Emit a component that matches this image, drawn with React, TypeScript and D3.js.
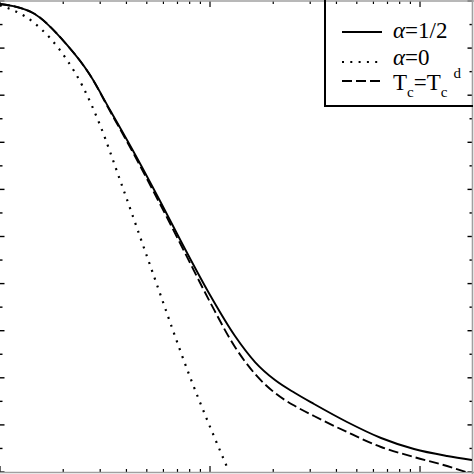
import React from "react";
import * as d3 from "d3";

const W = 474;
const H = 474;

// shared x values (log axis)
const curveX = [1, 1.436, 2.085, 2.683, 3.34, 4.492, 5.781, 7.603, 10, 13.15, 16.38, 20.39, 25.39, 31.28, 44.92, 65.22, 93.63, 134.5, 176.8];
// α = 1/2 (solid)
const solidY = [0.9936, 0.9745, 0.9066, 0.8429, 0.7686, 0.6667, 0.5754, 0.4735, 0.3758, 0.2887, 0.2335, 0.1953, 0.1677, 0.1444, 0.1062, 0.0722, 0.0488, 0.034, 0.0255];
// Tc = Tc^d (dashed)
const dashedY = [0.9936, 0.9745, 0.9066, 0.8429, 0.7665, 0.6624, 0.569, 0.465, 0.3609, 0.2654, 0.2081, 0.1677, 0.1401, 0.1189, 0.0849, 0.0531, 0.0318, 0.0127, -0.0042];
// α = 0 (dotted)
const dottedX = [1, 1.436, 1.73, 2.085, 2.485, 2.994, 3.728, 5.179, 8.033, 12.05];
const dottedY = [0.9915, 0.9554, 0.9214, 0.8747, 0.8174, 0.7367, 0.62, 0.4395, 0.2017, 0.0106];

const legendAlpha = "α";
const legendRest = ["=1/2", "=0"];

export default function App() {
  const left = 0;
  const right = 472;
  const top = 1;
  const bottom = 472;

  const x = d3.scaleLog().domain([1, 176.8]).range([left, right]);
  const y = d3.scaleLinear().domain([0, 1]).range([bottom, top]);

  const line = (xs: number[], ys: number[]) =>
    d3
      .line<number>()
      .x((_, i) => x(xs[i]))
      .y((d) => y(d))
      .curve(d3.curveMonotoneX)(ys) || "";

  const xTicks = x.ticks().filter((t) => t >= 1 && t <= 176.8);
  const yTicks = y.ticks(20);
  const isPow10 = (t: number) => Math.abs(Math.log10(t) - Math.round(Math.log10(t))) < 1e-9;
  const isMajorY = (t: number) => Math.abs(t * 10 - Math.round(t * 10)) < 1e-9;

  const font = "'Liberation Serif', 'Times New Roman', serif";

  return (
    <svg
      width={W}
      height={H}
      style={{ position: "absolute", left: 0, top: 0, background: "#fff" }}
    >
      <defs>
        <clipPath id="plot">
          <rect x={left} y={top} width={right - left} height={bottom - top} />
        </clipPath>
      </defs>
      <rect x={0} y={0} width={W} height={H} fill="#fff" />

      {/* ticks */}
      {xTicks.map((t, i) => {
        const len = isPow10(t) ? 6 : 3;
        return (
          <g key={"xt" + i} stroke="#000" strokeWidth={1.2}>
            <line x1={x(t)} x2={x(t)} y1={bottom} y2={bottom - len} />
            <line x1={x(t)} x2={x(t)} y1={top} y2={top + len} />
          </g>
        );
      })}
      {yTicks.map((t, i) => {
        const len = isMajorY(t) ? 4.5 : 2.5;
        return (
          <g key={"yt" + i} stroke="#000" strokeWidth={1.4}>
            <line x1={left} x2={left + len} y1={y(t)} y2={y(t)} />
            <line x1={right} x2={right - len} y1={y(t)} y2={y(t)} />
          </g>
        );
      })}

      {/* frame */}
      <g stroke="#a0a0a0" strokeWidth={1.6} fill="none">
        <line x1={0} x2={W} y1={top} y2={top} />
        <line x1={0} x2={W} y1={bottom + 0.5} y2={bottom + 0.5} />
        <line x1={right + 0.5} x2={right + 0.5} y1={0} y2={H} />
      </g>

      {/* curves */}
      <g clipPath="url(#plot)" fill="none" stroke="#000">
        <path d={line(curveX, solidY)} strokeWidth={1.9} />
        <path d={line(curveX, dashedY)} strokeWidth={1.9} strokeDasharray="10,4" />
        <path d={line(dottedX, dottedY)} strokeWidth={2.2} strokeDasharray="2,6.3" />
      </g>

      {/* legend */}
      <g>
        <path d={`M325,0 V106 H${right + 1}`} fill="none" stroke="#000" strokeWidth={2} />
        <line x1={342} x2={382} y1={32} y2={32} stroke="#000" strokeWidth={1.9} />
        <line x1={342} x2={382} y1={62} y2={62} stroke="#000" strokeWidth={2.2} strokeDasharray="2,6.3" />
        <line x1={342} x2={382} y1={81} y2={81} stroke="#000" strokeWidth={1.9} strokeDasharray="10,4" />
        <text x={393} y={38} fontFamily={font} fontSize={23} fill="#000">
          <tspan fontStyle="italic">{legendAlpha}</tspan>
          {legendRest[0]}
        </text>
        <text x={393} y={65} fontFamily={font} fontSize={23} fill="#000">
          <tspan fontStyle="italic">{legendAlpha}</tspan>
          {legendRest[1]}
        </text>
        <text x={393} y={90} fontFamily={font} fontSize={23} fill="#000">
          T
          <tspan fontSize={15} dy={7}>c</tspan>
          <tspan dy={-7}>=T</tspan>
          <tspan fontSize={15} dy={7}>c</tspan>
          <tspan fontSize={15} dy={-19} dx={6}>d</tspan>
        </text>
      </g>
    </svg>
  );
}
